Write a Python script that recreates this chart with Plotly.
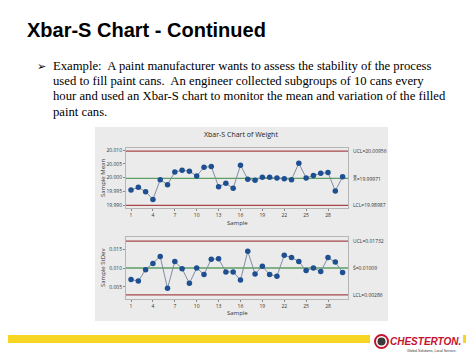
import plotly.graph_objects as go

samples = list(range(1, 31))
sample_means = [19.99544, 19.99642, 19.99483, 19.99202, 19.99922, 19.99739, 20.00203, 20.00264,
                20.00227, 20.00056, 20.00374, 20.00398, 19.99666, 19.99788, 19.99605, 20.00447,
                19.99934, 19.99898, 20.00008, 20.00008, 19.99983, 19.99959, 19.99922, 20.00520,
                19.99983, 20.00069, 20.00154, 20.00178, 19.99507, 20.00032]
sample_stdev = [0.00702, 0.00658, 0.00965, 0.01132, 0.01316, 0.00465, 0.01184, 0.00991,
                0.00597, 0.01009, 0.00834, 0.01246, 0.01255, 0.00904, 0.00904, 0.00685,
                0.01456, 0.00851, 0.01053, 0.00834, 0.00790, 0.01351, 0.01290, 0.01184,
                0.00939, 0.01009, 0.00913, 0.01290, 0.01167, 0.00886]
xbar_limits = {"UCL": 20.00956, "CL": 19.99971, "LCL": 19.98987}
s_limits = {"UCL": 0.01732, "CL": 0.01009, "LCL": 0.00286}
x_ticks = [1, 4, 7, 10, 13, 16, 19, 22, 25, 28]
mean_ticks = [19.990, 19.995, 20.000, 20.005, 20.010]
mean_tick_text = ["19.990", "19.995", "20.000", "20.005", "20.010"]
sd_ticks = [0.005, 0.010, 0.015]
sd_tick_text = ["0.005", "0.010", "0.015"]

W, H = 474, 355
def px(x): return x / W
def py(y): return 1 - y / H

fig = go.Figure()

LIM = "#a8474a"
CEN = "#5e9e62"
LINEC = "#7f8ea3"
MARK = "#1d4f91"

for yaxis, vals, lim in [("y", sample_means, xbar_limits), ("y2", sample_stdev, s_limits)]:
    xa = "x" if yaxis == "y" else "x2"
    for key, col in [("UCL", LIM), ("LCL", LIM), ("CL", CEN)]:
        fig.add_trace(go.Scatter(x=[0.31, 30.74], y=[lim[key]] * 2, mode="lines",
                                 line=dict(color=col, width=1.3), xaxis=xa, yaxis=yaxis,
                                 hoverinfo="skip", showlegend=False))
    fig.add_trace(go.Scatter(x=samples, y=vals, mode="lines+markers",
                             line=dict(color=LINEC, width=1),
                             marker=dict(color=MARK, size=5.5),
                             xaxis=xa, yaxis=yaxis, showlegend=False))

tickfont = dict(size=5, color="#333333", family="Open Sans, Liberation Sans, Arial")
axcommon = dict(showgrid=False, zeroline=False, showline=True, linecolor="#b5b5b5",
                linewidth=1, mirror=True, ticks="outside", ticklen=2, tickcolor="#888888",
                tickfont=tickfont)

fig.update_layout(
    width=W, height=H, margin=dict(l=0, r=0, t=0, b=0),
    paper_bgcolor="white", plot_bgcolor="white",
    xaxis=dict(domain=[px(118), px(340)], range=[0.31, 30.74], anchor="y",
               tickvals=x_ticks, **axcommon),
    yaxis=dict(domain=[py(200), py(140)], range=[19.98891, 20.01073], anchor="x",
               tickvals=mean_ticks, ticktext=mean_tick_text, **axcommon),
    xaxis2=dict(domain=[px(118), px(340)], range=[0.31, 30.74], anchor="y2",
                tickvals=x_ticks, **axcommon),
    yaxis2=dict(domain=[py(291), py(229)], range=[0.00178, 0.01840], anchor="x2",
                tickvals=sd_ticks, ticktext=sd_tick_text, **axcommon),
)

shapes = [
    dict(type="rect", xref="paper", yref="paper", x0=px(87), x1=px(380), y0=py(313), y1=py(119),
         fillcolor="#ebebeb", line=dict(width=0), layer="below"),
    dict(type="rect", xref="paper", yref="paper", x0=px(0), x1=px(362), y0=py(335), y1=py(327),
         fillcolor="#f7d523", line=dict(width=0), layer="below"),
    dict(type="rect", xref="paper", yref="paper", x0=px(455), x1=px(474), y0=py(335), y1=py(327),
         fillcolor="#f7d523", line=dict(width=0), layer="below"),
    dict(type="circle", xref="paper", yref="paper", x0=px(367), x1=px(380), y0=py(340), y1=py(327),
         fillcolor="white", line=dict(color="#c4122f", width=2)),
    dict(type="circle", xref="paper", yref="paper", x0=px(369.5), x1=px(377.5), y0=py(337.5), y1=py(329.5),
         fillcolor="#3a3a3a", line=dict(width=0)),
]
fig.update_layout(shapes=shapes)

ann = []
def text(x, y, s, size, color="#222222", family="Liberation Sans, Arial", xanchor="left",
         weight="normal", style="normal", angle=0):
    ann.append(dict(xref="paper", yref="paper", x=px(x), y=py(y), text=s, showarrow=False,
                    xanchor=xanchor, yanchor="middle", textangle=angle,
                    font=dict(size=size, color=color, family=family, weight=weight, style=style)))

text(17, 22, "Xbar-S Chart - Continued", 20, color="#000000", weight="bold")
serif = "Liberation Serif, Times New Roman, serif"
text(27, 58, "\u27a2", 11, color="#000000", family="DejaVu Sans")
lines = ["Example:  A paint manufacturer wants to assess the stability of the process",
         "used to fill paint cans.  An engineer collected subgroups of 10 cans every",
         "hour and used an Xbar-S chart to monitor the mean and variation of the filled",
         "paint cans."]
for i, ln in enumerate(lines):
    text(43, 58 + i * 15.2, ln, 12.7, color="#000000", family=serif)

text(233, 127, "Xbar-S Chart of Weight", 7, color="#222222", family="Open Sans, Liberation Sans", xanchor="center")
text(229, 215, "Sample", 6, color="#333333", family="Open Sans, Liberation Sans", xanchor="center")
text(229, 305, "Sample", 6, color="#333333", family="Open Sans, Liberation Sans", xanchor="center")
text(95, 170, "Sample Mean", 6, color="#333333", family="Open Sans, Liberation Sans", xanchor="center", angle=-90)
text(95, 260, "Sample StDev", 6, color="#333333", family="Open Sans, Liberation Sans", xanchor="center", angle=-90)

rl = "Open Sans, Liberation Sans"
text(343, 143, "UCL=%.5f" % xbar_limits["UCL"], 5, color="#333333", family=rl)
text(343, 170, "X\u033f=%.5f" % xbar_limits["CL"], 5, color="#333333", family=rl)
text(343, 197, "LCL=%.5f" % xbar_limits["LCL"], 5, color="#333333", family=rl)
text(343, 233, "UCL=%.5f" % s_limits["UCL"], 5, color="#333333", family=rl)
text(343, 260, "S\u0304=%.5f" % s_limits["CL"], 5, color="#333333", family=rl)
text(343, 287, "LCL=%.5f" % s_limits["LCL"], 5, color="#333333", family=rl)

text(380, 333, "CHESTERTON.", 10, color="#c4122f", family="Liberation Sans",
     weight="bold", style="italic")
text(450, 343, "Global Solutions, Local Service.", 3.5, color="#333333", xanchor="right")

fig.update_layout(annotations=ann)
fig.write_html("out.html")
